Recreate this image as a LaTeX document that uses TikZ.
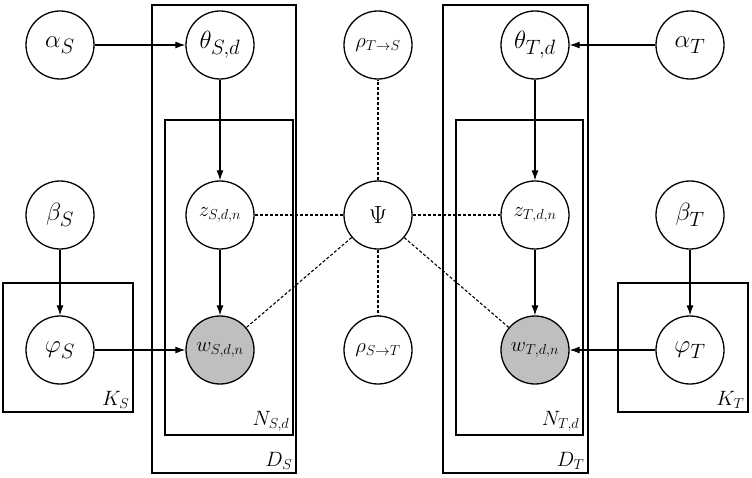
\documentclass[tikz,border=0pt]{standalone}
\usepackage{amsmath}
\usepackage{tikz}
\usetikzlibrary{arrows.meta}
\begin{document}
\begin{tikzpicture}[x=1pt,y=-1pt,>={Latex[length=10pt,width=7pt]},
  var/.style={circle,draw,line width=1.3pt,minimum size=68pt,inner sep=0pt,font=\Huge},
  small/.style={var,font=\huge},
  obs/.style={fill=black!25},
  plate/.style={draw,line width=1.3pt},
  lab/.style={anchor=south east,inner sep=3pt,font=\huge},
  dep/.style={->,line width=1.1pt},
  dot/.style={line width=1.1pt,dash pattern=on 3pt off 2pt}]
\useasboundingbox (0,0) rectangle (752,478);
% plates
\draw[plate] (152,5) rectangle (296,473) node[lab] (ds) {$D_S$};
\draw[plate] (165,120) rectangle (293,435) node[lab] (ns) {$N_{S,d}$};
\draw[plate] (3,283) rectangle (133,412) node[lab] (ks) {$K_S$};
\draw[plate] (443,5) rectangle (588,473) node[lab] (dt) {$D_T$};
\draw[plate] (456,120) rectangle (583,435) node[lab] (nt) {$N_{T,d}$};
\draw[plate] (618,283) rectangle (748,412) node[lab] (kt) {$K_T$};
% nodes
\node[var] (aS) at (60,45) {$\alpha_S$};
\node[var] (tS) at (220,45) {$\theta_{S,d}$};
\node[small] (rTS) at (378,45) {$\rho_{T\to S}$};
\node[var] (tT) at (535,45) {$\theta_{T,d}$};
\node[var] (aT) at (690,45) {$\alpha_T$};
\node[var] (bS) at (60,215) {$\beta_S$};
\node[small] (zS) at (220,215) {$z_{S,d,n}$};
\node[var] (psi) at (378,215) {$\Psi$};
\node[small] (zT) at (535,215) {$z_{T,d,n}$};
\node[var] (bT) at (690,215) {$\beta_T$};
\node[var] (pS) at (60,350) {$\varphi_S$};
\node[small,obs] (wS) at (220,350) {$w_{S,d,n}$};
\node[small] (rST) at (378,350) {$\rho_{S\to T}$};
\node[small,obs] (wT) at (535,350) {$w_{T,d,n}$};
\node[var] (pT) at (690,350) {$\varphi_T$};
% edges
\draw[dep] (aS) -- (tS);
\draw[dep] (tS) -- (zS);
\draw[dep] (zS) -- (wS);
\draw[dep] (bS) -- (pS);
\draw[dep] (pS) -- (wS);
\draw[dep] (aT) -- (tT);
\draw[dep] (tT) -- (zT);
\draw[dep] (zT) -- (wT);
\draw[dep] (bT) -- (pT);
\draw[dep] (pT) -- (wT);
\draw[dot] (psi) -- (rTS);
\draw[dot] (psi) -- (rST);
\draw[dot] (psi) -- (zS);
\draw[dot] (psi) -- (zT);
\draw[dot] (psi) -- (wS);
\draw[dot] (psi) -- (wT);
\end{tikzpicture}
\end{document}
